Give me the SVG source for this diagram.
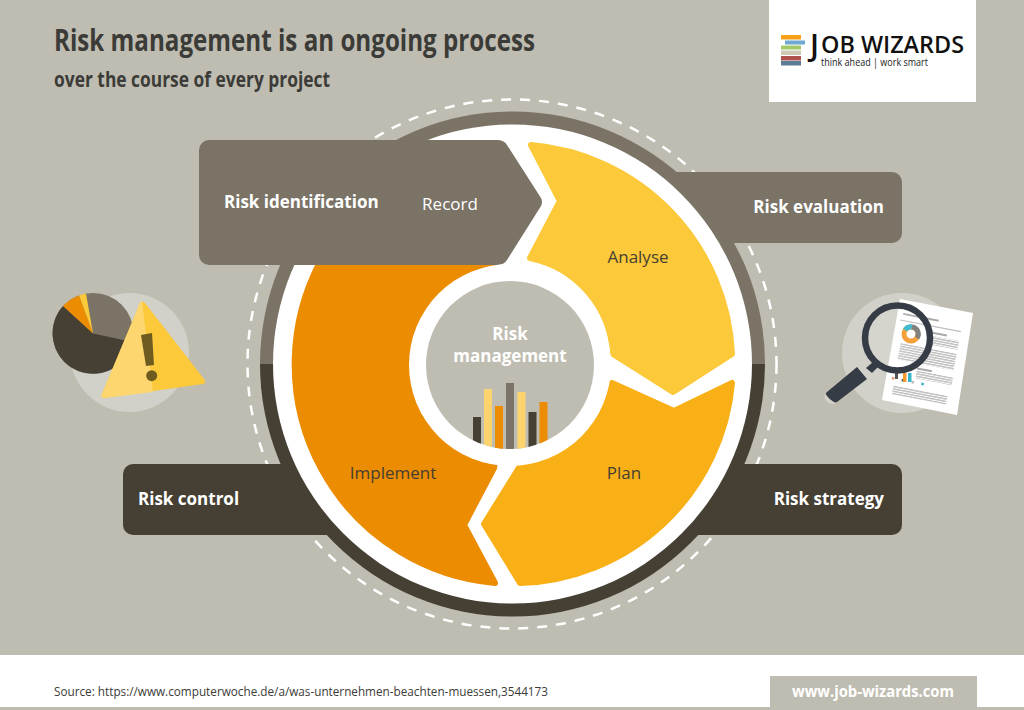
<svg xmlns="http://www.w3.org/2000/svg" width="1024" height="710" viewBox="0 0 1024 710">
<style>
text{font-family:"Open Sans","Noto Sans","Liberation Sans",sans-serif}
.lbl{font-size:17px;font-weight:700;fill:#fff}
.seg{font-size:17px;fill:#463f33}
.rows{fill:url(#rows)}
</style>
<defs>
<pattern id="rows" width="4" height="2.4" patternUnits="userSpaceOnUse"><rect width="4" height="1.400" fill="#bcbcbc"/></pattern>
<clipPath id="c"><circle cx="510" cy="365" r="84"/></clipPath>
</defs>
<rect width="1024" height="710" fill="#bfbdb1"/>
<rect y="655" width="1024" height="52" fill="#fff"/>
<text x="54" y="51" font-size="30" font-weight="700" fill="#3b3b38" textLength="481" lengthAdjust="spacingAndGlyphs">Risk management is an ongoing process</text>
<text x="54" y="87" font-size="21" font-weight="700" fill="#3b3b38" textLength="276" lengthAdjust="spacingAndGlyphs">over the course of every project</text>
<g id="logo">
<rect x="769" y="0" width="207" height="102" fill="#fff"/>
<rect x="781" y="35" width="20" height="4.500" fill="#f9a11b"/>
<rect x="785" y="40.500" width="20" height="4" fill="#6fa8d0"/>
<rect x="781" y="45.500" width="20" height="4" fill="#a4c96a"/>
<rect x="781" y="50.500" width="20" height="4.500" fill="#cfc9b6"/>
<rect x="781" y="56" width="20" height="4.500" fill="#b0504f"/>
<rect x="781" y="61" width="20" height="4.500" fill="#5a7d93"/>
<text y="53" font-size="24" font-weight="600" fill="#111"><tspan x="810" y="56" font-size="30">J</tspan><tspan x="821" y="53" textLength="143" lengthAdjust="spacingAndGlyphs">OB WIZARDS</tspan></text>
<text x="821" y="66" font-size="11" fill="#222" textLength="107" lengthAdjust="spacingAndGlyphs">think ahead | work smart</text>
</g>
<g id="dashed-ring"><circle cx="512" cy="364" r="264.500" fill="none" stroke="#fff" stroke-width="2.500" stroke-dasharray="10 9"/></g>
<g id="risk-evaluation">
<path d="M640 172H892a10 10 0 0 1 10 10V233a10 10 0 0 1-10 10H720Z" fill="#7a7366"/>
<text class="lbl" x="884" y="213" text-anchor="end">Risk evaluation</text>
</g>
<g id="risk-strategy">
<path d="M660 464H892a10 10 0 0 1 10 10V525a10 10 0 0 1-10 10H660Z" fill="#463f33"/>
<text class="lbl" x="884" y="505" text-anchor="end">Risk strategy</text>
</g>
<g id="risk-control">
<path d="M400 464H133a10 10 0 0 0-10 10V525a10 10 0 0 0 10 10H400Z" fill="#463f33"/>
<text class="lbl" x="138" y="505">Risk control</text>
</g>
<g id="ring">
<path d="M260 364a252.500 252.500 0 0 1 505 0Z" fill="#7a7366"/>
<path d="M260 364a252.500 252.500 0 0 0 505 0Z" fill="#463f33"/>
<circle cx="512.500" cy="364" r="239.500" fill="#fff"/>
</g>
<g id="implement">
<path d="M494 468L510 365L494 262H320A219.500 219.500 0 0 0 495 583L464 525Z" fill="#ec8c00" stroke="#ec8c00" stroke-width="6" stroke-linejoin="round"/>
<text class="seg" x="393" y="479" text-anchor="middle">Implement</text>
</g>
<g id="plan">
<path d="M612 383L674 411L732 383A219.500 219.500 0 0 1 520 583L484 524L520 466A104 104 0 0 0 612 383Z" fill="#f9b017" stroke="#f9b017" stroke-width="6" stroke-linejoin="round"/>
<text class="seg" x="624" y="479" text-anchor="middle">Plan</text>
</g>
<g id="analyse">
<path d="M531 145A219.500 219.500 0 0 1 732 354L673 392L613 354A104 104 0 0 0 530 258L560 201Z" fill="#fcc93a" stroke="#fcc93a" stroke-width="6" stroke-linejoin="round"/>
<text class="seg" x="638" y="263" text-anchor="middle">Analyse</text>
</g>
<g id="record">
<path d="M209 140H497Q504 140 507 145L541 198Q543 202 541 206L507 260Q504 265 497 265H209A10 10 0 0 1 199 255V150A10 10 0 0 1 209 140Z" fill="#7a7366"/>
<text class="lbl" x="224" y="208">Risk identification</text>
<text x="450" y="210" font-size="17" fill="#fff" text-anchor="middle">Record</text>
</g>
<g id="risk-management">
<circle cx="510" cy="365" r="101" fill="#fff"/>
<circle cx="510" cy="365" r="84" fill="#bfbdb1"/>
<g clip-path="url(#c)">
<rect x="473" y="417" width="8" height="50" fill="#463f33"/>
<rect x="484" y="389" width="8" height="80" fill="#fdd36d"/>
<rect x="495" y="406" width="8" height="60" fill="#ec8c00"/>
<rect x="506" y="383" width="8" height="90" fill="#7a7366"/>
<rect x="517.500" y="392" width="8" height="80" fill="#fdd36d"/>
<rect x="528.500" y="412" width="8" height="60" fill="#463f33"/>
<rect x="539.500" y="402" width="8" height="70" fill="#ec8c00"/>
</g>
<text x="510" y="340" font-size="17" font-weight="700" fill="#fff" text-anchor="middle">Risk</text>
<text x="510" y="362" font-size="17" font-weight="700" fill="#fff" text-anchor="middle">management</text>
</g>
<g id="warning-icon">
<circle cx="129.500" cy="352.500" r="59.500" fill="#d2d1c9"/>
<circle cx="93" cy="333.500" r="40.500" fill="#7a7366"/>
<path d="M93 333.500L132.600 342A40.500 40.500 0 1 1 63 306Z" fill="#463f33"/>
<path d="M93 333.500L63 306A40.500 40.500 0 0 1 79 295.500Z" fill="#ec8c00"/>
<path d="M93 333.500L79 295.500A40.500 40.500 0 0 1 86 293.600Z" fill="#fcc93a"/>
<path d="M140 303Q142 300 145 303L204 379Q207 383 203 384L104 398Q100 398 102 394Z" fill="#fcc93a"/>
<path d="M140 303Q141 301 142 301L153 392L104 398Q100 398 102 394Z" fill="#fdd66f"/>
<path d="M141 335L152 333L154 365L146 366Z" fill="#6d5b1f"/>
<circle cx="151.700" cy="375.700" r="5.500" fill="#6d5b1f"/>
</g>
<g id="report-icon">
<circle cx="902" cy="353" r="60" fill="#d2d1c9"/>
<path d="M900 299L973 313L957 415L882 400Z" fill="#fff"/>
<g transform="translate(900 299) rotate(10.900)">
<rect x="6" y="13" width="36" height="2" fill="#a9a9a9"/>
<rect x="4" y="20" width="62" height="1.200" fill="#bcbcbc"/>
<rect x="38" y="26" width="15" height="2" fill="#a9a9a9"/>
<rect class="rows" x="38" y="30" width="28" height="9"/>
<rect class="rows" x="9" y="43" width="57" height="17"/>
<rect x="30" y="64" width="15" height="2" fill="#a9a9a9"/>
<rect class="rows" x="30" y="67" width="37" height="8"/>
<rect class="rows" x="10" y="86" width="55" height="9"/>
<rect x="7" y="78" width="2.500" height="2.500" fill="#ef8c6a"/>
<rect x="17" y="78" width="2.500" height="2.500" fill="#555"/>
<rect x="27" y="78" width="2.500" height="2.500" fill="#bbb"/>
<rect x="37" y="78" width="2.500" height="2.500" fill="#34b5c9"/>
</g>
<circle cx="911" cy="334" r="7" fill="none" stroke="#f39a2c" stroke-width="5"/>
<path d="M905 330A7 7 0 0 1 912 327" fill="none" stroke="#34b5c9" stroke-width="5"/>
<path d="M912 327A7 7 0 0 1 917 338" fill="none" stroke="#777" stroke-width="5"/>
<rect x="895" y="373" width="3" height="6" fill="#555"/><rect x="903" y="373" width="3.500" height="9" fill="#f39a2c"/><rect x="908" y="373" width="3.500" height="9" fill="#34b5c9"/>
<circle cx="897.500" cy="338" r="32.500" fill="#fff" fill-opacity=".08" stroke="#363c46" stroke-width="6.500"/>
<path d="M873 362L878 367L872 373L866 368Z" fill="#363c46"/>
<path d="M859 365L871 376L866 380L855 369Z" fill="#d2d1c9"/>
<path d="M857 367L867 379L837 402Q831 405 827 400Q823 396 827 392Z" fill="#363c46"/>
<path d="M825 393Q823 400 829 403Q832 405 836 403Q829 400 825 393Z" fill="#d2d1c9"/>
</g>
<g id="footer">
<text x="54" y="696" font-size="12.500" fill="#3b3b38" textLength="494" lengthAdjust="spacingAndGlyphs">Source: https://www.computerwoche.de/a/was-unternehmen-beachten-muessen,3544173</text>
<rect x="770" y="676" width="207" height="31" fill="#bfbdb1"/>
<text x="792" y="697" font-size="16" font-weight="700" fill="#fff" textLength="162" lengthAdjust="spacingAndGlyphs">www.job-wizards.com</text>
</g>
</svg>
